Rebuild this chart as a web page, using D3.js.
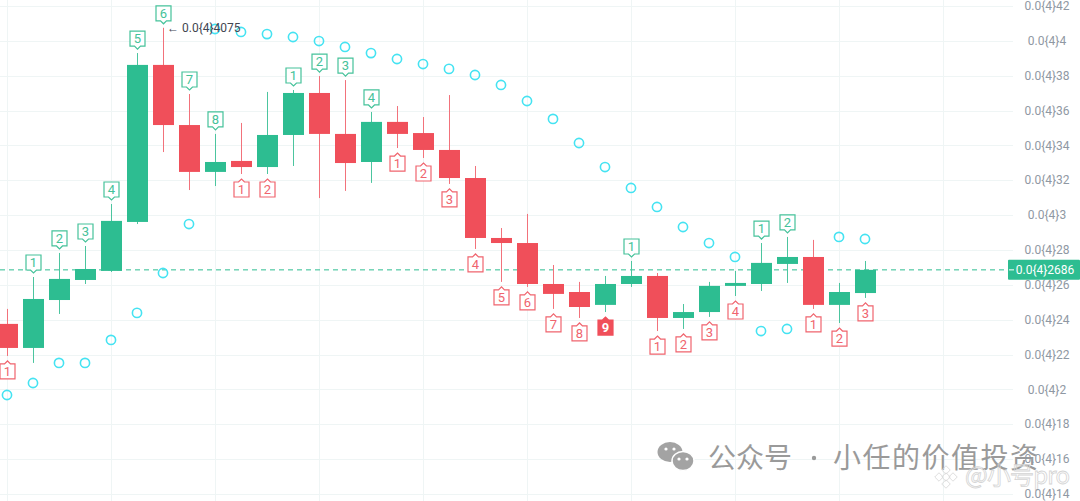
<!DOCTYPE html>
<html><head><meta charset="utf-8">
<script src="https://cdn.jsdelivr.net/npm/d3@7"></script>
<style>html,body{margin:0;padding:0;background:#fff;overflow:hidden}</style>
</head><body><svg id="c" width="1080" height="501"></svg>
<script>
// Prices in units of 1e-5 (0.0{4}42 = 0.000042 -> 4.2)
const candleIndex = [0,1,2,3,4,5,6,7,8,9,10,11,12,13,14,15,16,17,18,19,20,21,22,23,24,25,26,27,28,29,30,31,32,33];
const opens  = [2.376,2.238,2.513,2.628,2.680,2.961,3.862,3.517,3.248,3.311,3.276,3.460,3.701,3.466,3.305,3.535,3.471,3.374,3.213,2.869,2.840,2.605,2.559,2.485,2.605,2.651,2.410,2.444,2.594,2.605,2.720,2.760,2.485,2.553];
const highs  = [2.462,2.645,2.783,2.823,3.064,3.930,4.075,3.695,3.466,3.529,3.707,3.718,3.798,3.775,3.592,3.626,3.563,3.689,3.282,2.926,3.007,2.714,2.617,2.651,2.737,2.668,2.490,2.617,2.680,2.840,2.875,2.858,2.611,2.737];
const lows   = [2.192,2.152,2.433,2.605,2.674,2.949,3.362,3.144,3.167,3.236,3.236,3.282,3.098,3.139,3.185,3.385,3.328,3.179,2.806,2.617,2.588,2.462,2.410,2.444,2.588,2.335,2.347,2.416,2.536,2.565,2.611,2.462,2.381,2.525];
const closes = [2.238,2.519,2.634,2.691,2.967,3.862,3.517,3.248,3.305,3.276,3.460,3.701,3.466,3.299,3.535,3.466,3.374,3.213,2.869,2.840,2.605,2.548,2.473,2.605,2.651,2.410,2.444,2.594,2.611,2.726,2.760,2.485,2.559,2.686];
const sarValues = [1.968,2.037,2.152,2.152,2.284,2.439,2.668,2.949,4.068,4.051,4.039,4.022,3.999,3.965,3.930,3.896,3.867,3.839,3.804,3.747,3.655,3.552,3.414,3.276,3.156,3.047,2.932,2.840,2.760,2.335,2.347,2.364,2.875,2.863];
const tdCounts = [1,1,2,3,4,5,6,7,8,1,2,1,2,3,4,1,2,3,4,5,6,7,8,9,1,1,2,3,4,1,2,1,2,3];
const tdSides  = ["down","up","up","up","up","up","up","up","up","down","down","up","up","up","up","down","down","down","down","down","down","down","down","down","up","down","down","down","down","up","up","down","down","down"];
const tdFilled = [23];
const tickValues = [4.2,4.0,3.8,3.6,3.4,3.2,3.0,2.8,2.6,2.4,2.2,2.0,1.8,1.6,1.4];
const tickLabels = ["0.0{4}42","0.0{4}4","0.0{4}38","0.0{4}36","0.0{4}34","0.0{4}32","0.0{4}3","0.0{4}28","0.0{4}26","0.0{4}24","0.0{4}22","0.0{4}2","0.0{4}18","0.0{4}16","0.0{4}14"];
const lastPrice = 2.686;
const highMark = {index: 6, value: 4.075};

const fmt = v => "0.0{4}" + String(+v.toFixed(4)).replace(".", "");

const GREEN = "#2dbd91", RED = "#f04f5a";
const GREEN_W = "#4cc59f", RED_W = "#f2727b";
const GREEN_L = "#45c29a", RED_L = "#f0646e";

const svg = d3.select("#c");
svg.append("rect").attr("width",1080).attr("height",501).attr("fill","#fff");

const plotRight = 1013;
const x = d3.scaleLinear().domain([0, 33]).range([7, 865]);
const y = d3.scaleLinear().domain([1.4, 4.2]).range([494, 6]);

// grid
const grid = svg.append("g");
grid.selectAll(".hg").data(tickValues).join("line")
  .attr("x1",0).attr("x2",plotRight)
  .attr("y1",d=>Math.round(y(d))+0.5).attr("y2",d=>Math.round(y(d))+0.5)
  .attr("stroke","#eff5f5").attr("stroke-width",1);
grid.selectAll(".vg").data(d3.range(0, 37, 4)).join("line")
  .attr("x1",d=>Math.round(x(d))+0.5).attr("x2",d=>Math.round(x(d))+0.5)
  .attr("y1",0).attr("y2",501)
  .attr("stroke","#eff5f5").attr("stroke-width",1);

// watermark
const wm = svg.append("g");
wm.append("ellipse").attr("cx",670).attr("cy",452).attr("rx",12.5).attr("ry",10).attr("fill","#a3a3a3");
wm.append("ellipse").attr("cx",683).attr("cy",461).attr("rx",11).attr("ry",9.5).attr("fill","#a3a3a3").attr("stroke","#fff").attr("stroke-width",1.5);
[[666,449],[674,449],[679,459],[687,459]].forEach(p=>wm.append("circle").attr("cx",p[0]).attr("cy",p[1]).attr("r",1.6).attr("fill","#fff"));
const cjk = "'Noto Sans CJK SC', sans-serif";
wm.append("text").attr("x",708).attr("y",468).attr("font-family",cjk).attr("font-size",28).attr("fill","#9a9a9a").text("公众号");
wm.append("circle").attr("cx",814).attr("cy",458).attr("r",2.2).attr("fill","#9a9a9a");
wm.append("text").attr("x",833).attr("y",468).attr("font-family",cjk).attr("font-size",28).attr("fill","#9a9a9a").attr("textLength",205).text("小任的价值投资");
wm.append("text").attr("x",965).attr("y",484).attr("font-family",cjk).attr("font-size",24).attr("fill","none").attr("stroke","#d4d4d4").attr("stroke-width",0.8).attr("textLength",105).text("@小号pro");
[[946,470],[939,477],[953,477],[946,484],[946,477]].forEach(p=>wm.append("rect").attr("x",p[0]-3).attr("y",p[1]-3).attr("width",6).attr("height",6).attr("transform",`rotate(45 ${p[0]} ${p[1]})`).attr("fill","none").attr("stroke","#d8d8d8").attr("stroke-width",0.8));

// last price dashed line
svg.append("line").attr("x1",0).attr("x2",1008).attr("y1",y(lastPrice)).attr("y2",y(lastPrice))
  .attr("stroke",GREEN).attr("stroke-width",1).attr("stroke-dasharray","5,4");

// candles
const data = candleIndex.map(i => ({i, o:opens[i], h:highs[i], l:lows[i], c:closes[i]}));
const cg = svg.append("g");
cg.selectAll(".wick").data(data).join("line")
  .attr("x1",d=>Math.round(x(d.i))+0.5).attr("x2",d=>Math.round(x(d.i))+0.5)
  .attr("y1",d=>y(d.h)).attr("y2",d=>y(d.l))
  .attr("stroke",d=>d.c>=d.o?GREEN_W:RED_W).attr("stroke-width",1);
cg.selectAll(".body").data(data).join("rect")
  .attr("x",d=>Math.round(x(d.i))-10).attr("width",21)
  .attr("y",d=>y(Math.max(d.o,d.c)))
  .attr("height",d=>Math.max(1, y(Math.min(d.o,d.c)) - y(Math.max(d.o,d.c))))
  .attr("fill",d=>d.c>=d.o?GREEN:RED);

// SAR
svg.append("g").selectAll("circle").data(candleIndex).join("circle")
  .attr("cx",i=>x(i)).attr("cy",i=>y(sarValues[i])).attr("r",4.6)
  .attr("fill","none").attr("stroke","#45e3f2").attr("stroke-width",1.6);

// TD labels
const lg = svg.append("g").attr("font-family","Roboto, sans-serif").attr("font-size",13);
candleIndex.forEach(i => {
  const cx = Math.round(x(i)) + 0.5;
  const up = tdSides[i] === "up";
  const filled = tdFilled.includes(i);
  const col = up ? GREEN_L : RED_L;
  const w = 15, h = 15, n = 3;
  let path, ty;
  if (up) {
    const tip = y(highs[i]) - 4;
    const b = tip - n, t = b - h;
    path = `M${cx-w/2},${t}H${cx+w/2}V${b}H${cx+n}L${cx},${tip}L${cx-n},${b}H${cx-w/2}Z`;
    ty = (t + b) / 2;
  } else {
    const tip = y(lows[i]) + 5;
    const t = tip + n, b = t + h;
    path = `M${cx-w/2},${t}H${cx-n}L${cx},${tip}L${cx+n},${t}H${cx+w/2}V${b}H${cx-w/2}Z`;
    ty = (t + b) / 2;
  }
  lg.append("path").attr("d",path)
    .attr("fill", filled ? RED : "#fff").attr("stroke", filled ? RED : col).attr("stroke-width",1.2);
  lg.append("text").attr("x",cx).attr("y",ty).attr("dy","0.36em").attr("text-anchor","middle")
    .attr("fill", filled ? "#fff" : col).attr("font-weight", filled ? "bold" : "normal")
    .text(tdCounts[i]);
});

// high marker
svg.append("text").attr("x",x(highMark.index)+4).attr("y",y(highMark.value)).attr("dy","0.35em")
  .attr("font-family","Roboto, sans-serif").attr("font-size",12).attr("fill","#434651")
  .text("\u2190 " + fmt(highMark.value));

// y axis labels
const ax = svg.append("g").attr("font-family","Roboto, sans-serif").attr("font-size",12).attr("fill","#8f98a3");
ax.selectAll("text").data(tickValues).join("text")
  .attr("x",1047).attr("y",d=>y(d)).attr("dy","0.35em").attr("text-anchor","middle")
  .text((d,k)=>tickLabels[k]);

// last price label
const ly = y(lastPrice);
svg.append("rect").attr("x",1008).attr("y",ly-10).attr("width",72).attr("height",20).attr("fill",GREEN).attr("rx",1);
svg.append("line").attr("x1",1009).attr("x2",1014).attr("y1",ly).attr("y2",ly).attr("stroke","#fff").attr("stroke-width",1);
svg.append("text").attr("x",1045).attr("y",ly).attr("dy","0.36em").attr("text-anchor","middle")
  .attr("font-family","Roboto, sans-serif").attr("font-size",12).attr("fill","#fff").text(fmt(lastPrice));
</script></body></html>
